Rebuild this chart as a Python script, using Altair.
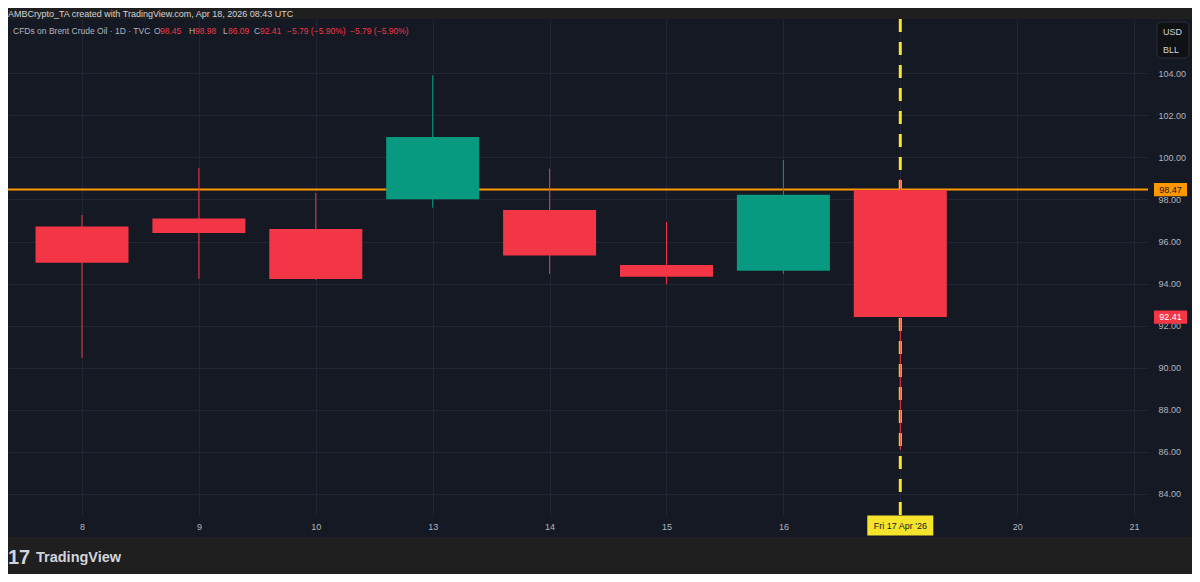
import altair as alt
import pandas as pd
import numpy as np

# ---------------- data ----------------
days = ["8", "9", "10", "13", "14", "15", "16", "17", "20", "21"]
opens = [96.72, 97.10, 96.60, 98.01, 97.50, 94.88, 94.61, 98.45]
closes = [94.99, 96.41, 94.22, 100.97, 95.34, 94.33, 98.23, 92.41]
highs = [97.26, 99.49, 98.31, 103.90, 99.47, 96.93, 99.87, 98.98]
lows = [90.46, 94.23, 94.18, 97.61, 94.46, 93.98, 94.46, 86.09]
y_ticks = [84, 86, 88, 90, 92, 94, 96, 98, 100, 102, 104]
level = [98.47]
sel_idx = [7]
sel_label = ["Fri 17 Apr '26"]
change = "\u22125.79 (\u22125.90%)"

# ---------------- style ----------------
BG = "#151924"
OUTER = "#1f1f1f"
GRID = "#222632"
TXT = "#b2b5be"
HEAD = "#d1d4dc"
RED = "#f23645"
GREEN = "#089981"
ORANGE = "#ff9800"
YELLOW = "#f5e42b"
FONT = "Liberation Sans"
W, H = 1140, 496

candles = pd.DataFrame({
    "idx": list(range(len(opens))),
    "open": opens, "close": closes, "high": highs, "low": lows,
})
candles["dir"] = np.where(candles["close"] >= candles["open"], "up", "down")

xs = alt.Scale(domain=[-0.633, 9.119], nice=False, zero=False, padding=0)
ys = alt.Scale(domain=[83.0, 106.58], nice=False, zero=False, padding=0)
label_arr = "[" + ",".join("'%s'" % d for d in days) + "]"

xa = alt.Axis(values=list(range(len(days))),
              labelExpr="datum.value == %d ? '' : %s[datum.value]" % (sel_idx[0], label_arr),
              title=None, domain=False, ticks=False, grid=True, gridColor=GRID,
              gridWidth=1, labelColor=TXT, labelFont=FONT, labelFontSize=9,
              labelPadding=11, labelBaseline="middle", labelFlush=False,
              labelOverlap=False, orient="bottom")
ya = alt.Axis(values=y_ticks, format=".2f", title=None, domain=False, ticks=False,
              grid=True, gridColor=GRID, gridWidth=1, labelColor=TXT, labelFont=FONT,
              labelFontSize=9, labelPadding=10, labelFlush=False, labelOverlap=False,
              orient="right")
col = alt.Color("dir:N", scale=alt.Scale(domain=["up", "down"], range=[GREEN, RED]), legend=None)

one = pd.DataFrame({"k": [0]})

# outer frame strips (header / footer)
strips = alt.Chart(pd.DataFrame({"x": [0, 0], "x2": [1184, 1184], "y": [-11, 518], "y2": [0, 555]})).mark_rect(
    color=OUTER).encode(
    x=alt.X("x:Q", scale=None), x2="x2:Q", y=alt.Y("y:Q", scale=None), y2="y2:Q")

# selected-day dashed line
vline = alt.Chart(pd.DataFrame({"idx": sel_idx})).mark_rule(
    color=YELLOW, strokeWidth=3, strokeDash=[13, 10]).encode(
    x=alt.X("idx:Q", scale=xs, axis=xa))

# horizontal level
hline = alt.Chart(pd.DataFrame({"v": level})).mark_rule(color=ORANGE, strokeWidth=2).encode(
    y=alt.Y("v:Q", scale=ys, axis=ya))

wicks = alt.Chart(candles).mark_rule(strokeWidth=1).encode(
    x=alt.X("idx:Q", scale=xs, axis=xa),
    y=alt.Y("low:Q", scale=ys, axis=ya), y2="high:Q", color=col)

bodies = alt.Chart(candles).mark_bar(size=93).encode(
    x=alt.X("idx:Q", scale=xs, axis=xa),
    y=alt.Y("open:Q", scale=ys, axis=ya), y2="close:Q", color=col)

# price labels on the axis
box_shape = "M-1,-0.4L1,-0.4L1,0.4L-1,0.4Z"
price_df = pd.DataFrame({"v": [level[0], closes[-1]], "fill": [ORANGE, RED],
                         "tc": ["#131722", "#ffffff"], "t": ["%.2f" % level[0], "%.2f" % closes[-1]]})
pbox = alt.Chart(price_df).mark_point(shape=box_shape, size=33 ** 2, filled=True, opacity=1,
                                      strokeWidth=0).encode(
    x=alt.value(1162.5), y=alt.Y("v:Q", scale=ys, axis=ya),
    fill=alt.Fill("fill:N", scale=None))
ptxt = alt.Chart(price_df).mark_text(font=FONT, fontSize=9, align="center", baseline="middle").encode(
    x=alt.value(1162.5), y=alt.Y("v:Q", scale=ys, axis=ya), text="t:N",
    color=alt.Color("tc:N", scale=None))

# date label at bottom
date_df = pd.DataFrame({"idx": sel_idx, "t": sel_label})
dbox = alt.Chart(date_df).mark_point(shape="M-1,-0.3L1,-0.3L1,0.3L-1,0.3Z", size=66 ** 2,
                                     filled=True, opacity=1, strokeWidth=0, fill=YELLOW).encode(
    x=alt.X("idx:Q", scale=xs, axis=xa), y=alt.value(506.5))
dtxt = alt.Chart(date_df).mark_text(font=FONT, fontSize=9, color="#131722", align="center",
                                    baseline="middle").encode(
    x=alt.X("idx:Q", scale=xs, axis=xa), y=alt.value(507), text="t:N")

# USD / BLL badge
badge = alt.Chart(one).mark_rect(fill="#101114", stroke="#2c2f36", strokeWidth=1, cornerRadius=5).encode(
    x=alt.value(1149), x2=alt.value(1181), y=alt.value(3), y2=alt.value(39))
badge_txt = alt.Chart(pd.DataFrame({"t": ["USD", "BLL"], "y": [13, 31]})).mark_text(
    font=FONT, fontSize=9, color=HEAD, align="left", baseline="middle").encode(
    x=alt.value(1155), y=alt.Y("y:Q", scale=None), text="t:N")

# header & legend
header = alt.Chart(one).mark_text(font=FONT, fontSize=9, color=HEAD, align="left",
                                  baseline="middle",
                                  text="AMBCrypto_TA created with TradingView.com, Apr 18, 2026 08:43 UTC").encode(
    x=alt.value(0), y=alt.value(-5))

seg = pd.DataFrame({
    "t": ["CFDs on Brent Crude Oil \u00b7 1D \u00b7 TVC", "O", "%.2f" % opens[-1], "H", "%.2f" % highs[-1],
          "L", "%.2f" % lows[-1], "C", "%.2f" % closes[-1], change, change],
    "x": [5, 146, 152, 181, 187, 215, 220, 246, 252, 279, 342],
    "c": [TXT, TXT, RED, TXT, RED, TXT, RED, TXT, RED, RED, RED],
})
legend = alt.Chart(seg).mark_text(font=FONT, fontSize=8.5, align="left", baseline="middle").encode(
    x=alt.X("x:Q", scale=None), y=alt.value(12), text="t:N", color=alt.Color("c:N", scale=None))

logo = alt.Chart(pd.DataFrame({"t": ["17", "TradingView"], "x": [0, 28],
                               "s": [20, 14.5]})).mark_text(
    font=FONT, color=HEAD, align="left", baseline="middle", fontWeight="bold").encode(
    x=alt.X("x:Q", scale=None), y=alt.value(539), text="t:N", size=alt.Size("s:Q", scale=None))

chart = alt.layer(strips, vline, hline, wicks, bodies, pbox, ptxt, dbox, dtxt, badge, badge_txt,
                  header, legend, logo).properties(
    width=W, height=H, background=BG,
    autosize=alt.AutoSizeParams(type="none"),
    padding={"left": 0, "top": 11, "right": 44, "bottom": 59},
).configure_view(strokeWidth=0, fill=BG)

chart.save("out.html", embed_options={"renderer": "svg", "actions": False})
